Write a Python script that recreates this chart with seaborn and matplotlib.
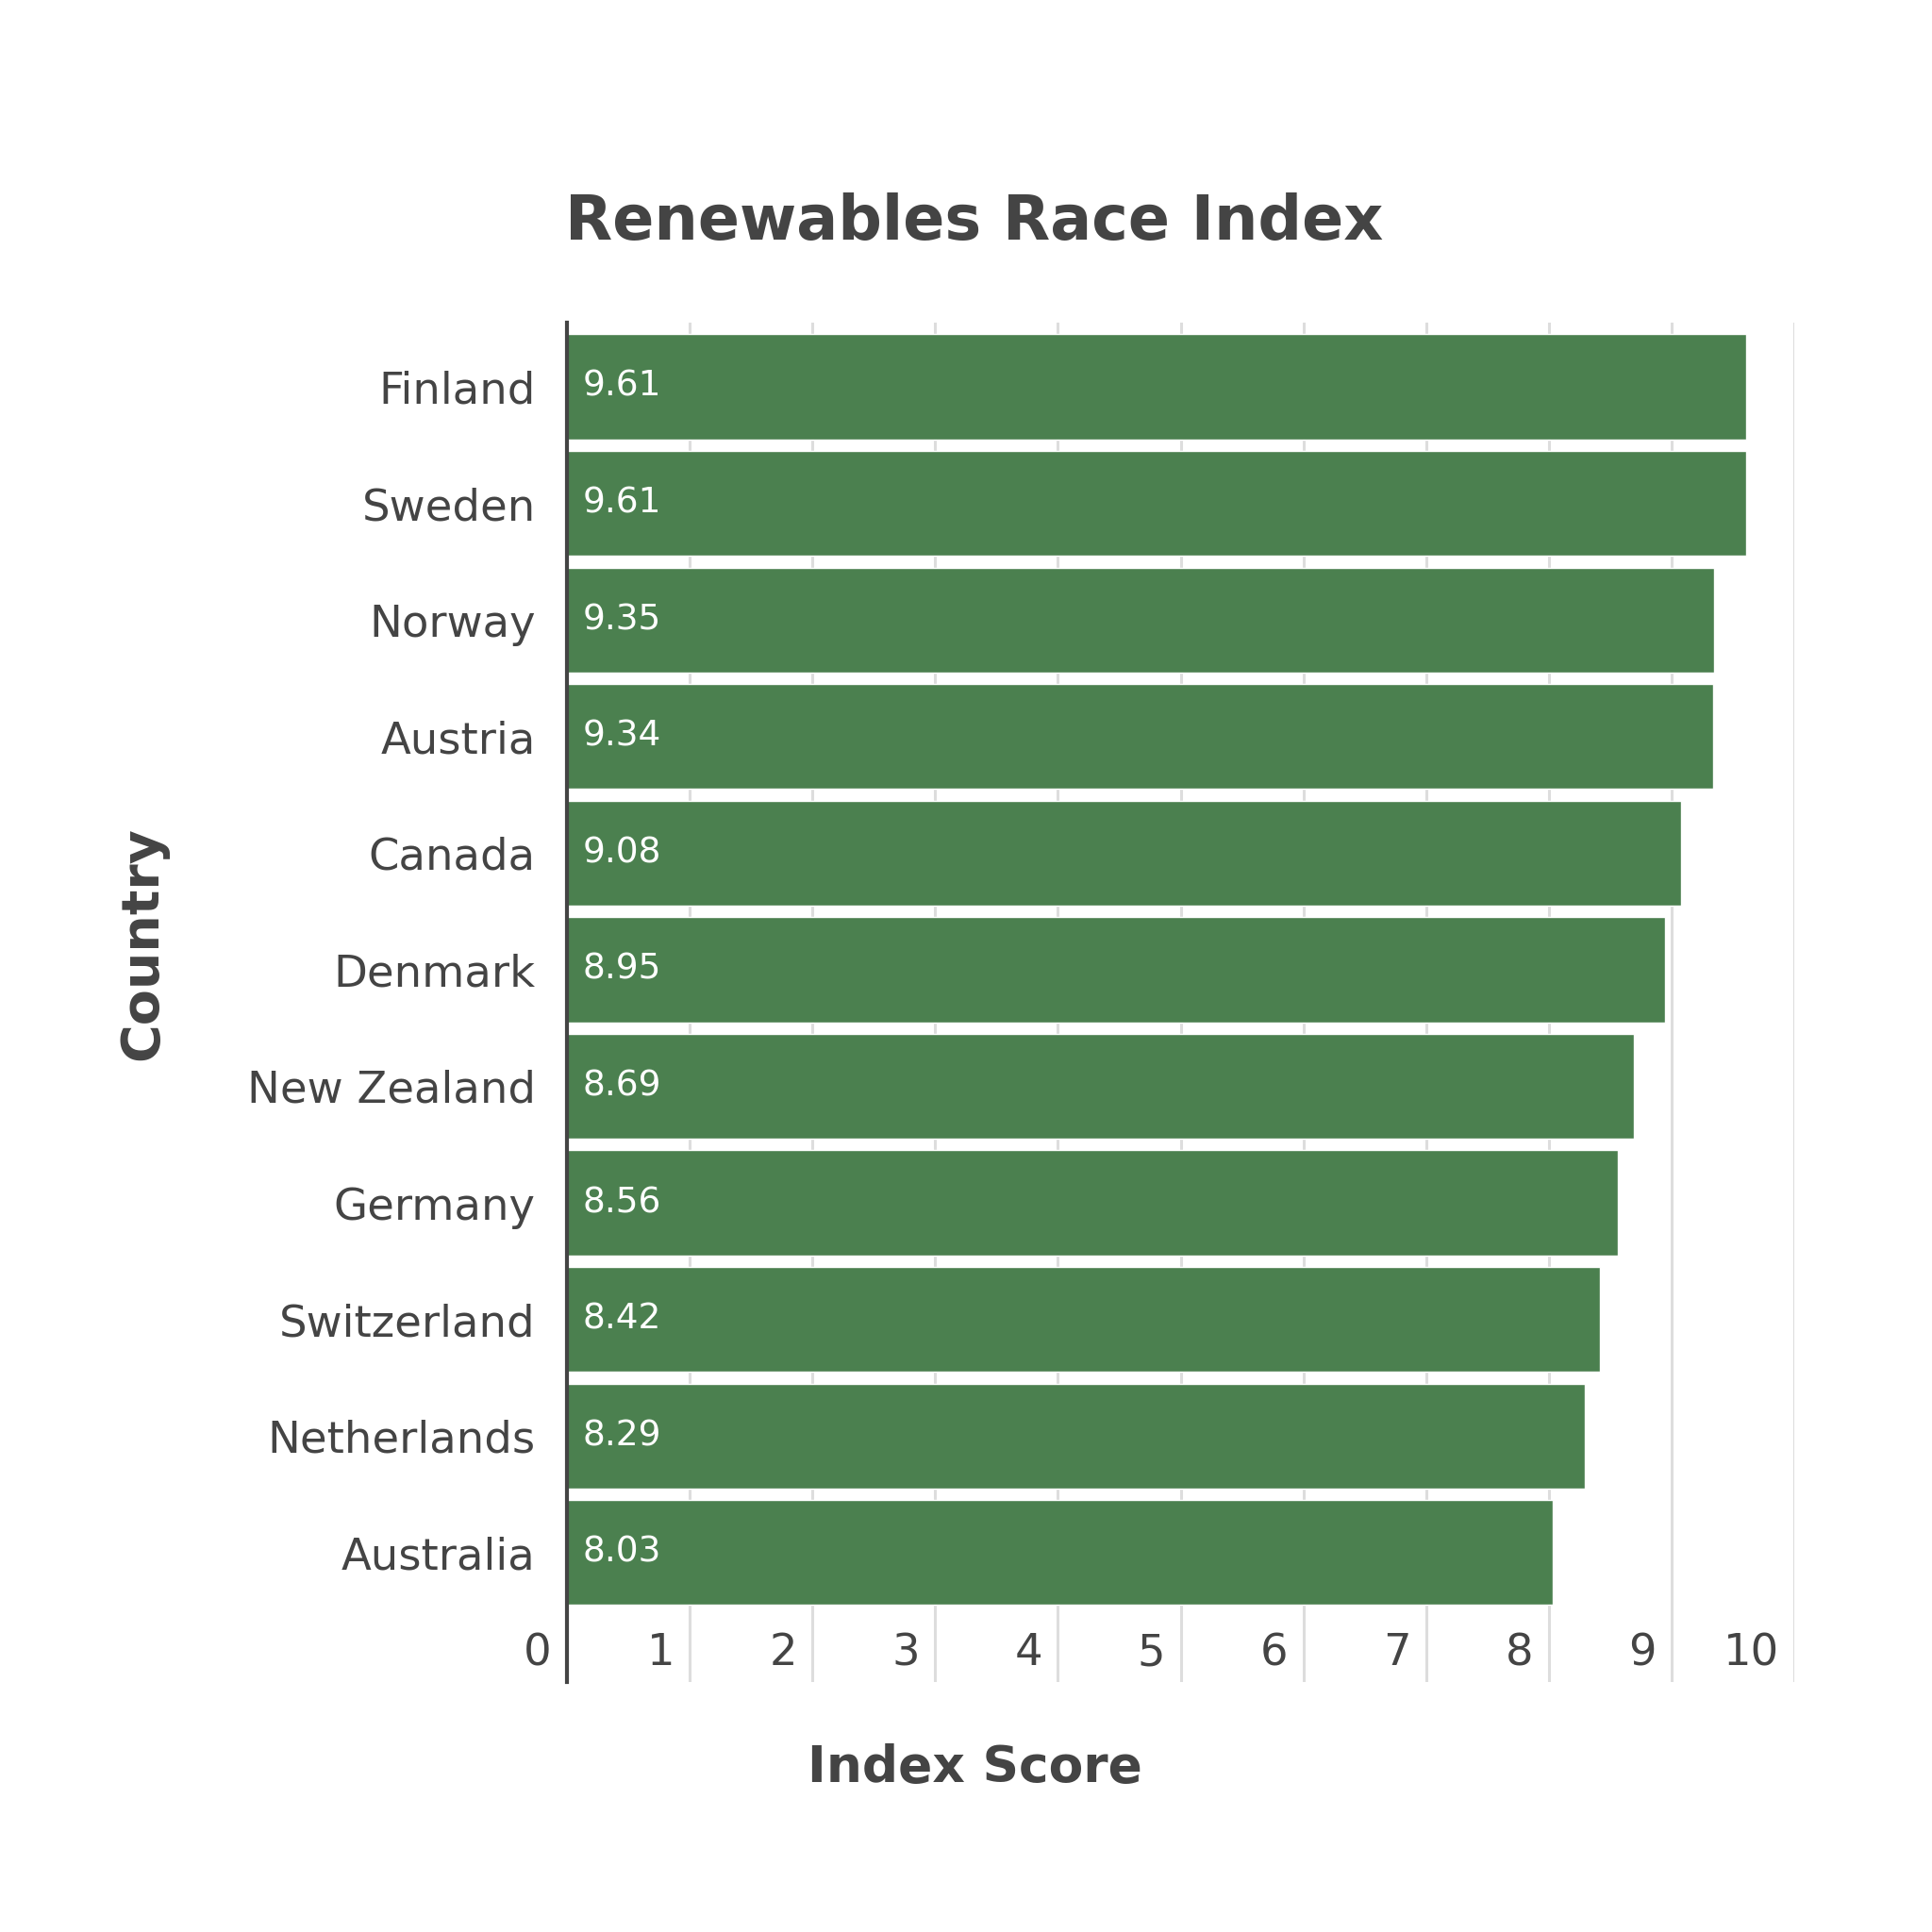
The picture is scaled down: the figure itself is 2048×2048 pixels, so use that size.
import matplotlib
matplotlib.use('Agg')
import matplotlib.pyplot as plt
import matplotlib.transforms as mtransforms
import seaborn as sns

# data
countries = ['Finland', 'Sweden', 'Norway', 'Austria', 'Canada', 'Denmark',
             'New Zealand', 'Germany', 'Switzerland', 'Netherlands', 'Australia']
scores = [9.61, 9.61, 9.35, 9.34, 9.08, 8.95, 8.69, 8.56, 8.42, 8.29, 8.03]
xticks = [0, 1, 2, 3, 4, 5, 6, 7, 8, 9, 10]
xtick_labels = [str(t) for t in xticks]

green = '#4b804f'
text_col = '#444444'

sns.set_style('white')
plt.rcParams['font.family'] = ['DejaVu Sans']

fig = plt.figure(figsize=(20.48, 20.48), dpi=100)
ax = fig.add_axes([0.2935, 0.1294, 0.6352, 0.7036])

sns.barplot(x=scores, y=countries, orient='h', color=green, saturation=1,
            width=0.9, ax=ax, zorder=2)

ax.set_xlim(0, 10)
ax.set_ylim(11.11, -0.55)

# vertical grid lines, full height of the axes
ax.set_xticks(xticks)
ax.set_xticklabels([])
ax.tick_params(axis='x', length=0)
ax.grid(axis='x', color='#dddddd', linewidth=2.2)
ax.grid(axis='y', visible=False)
ax.set_axisbelow(True)

for side in ['top', 'right', 'bottom']:
    ax.spines[side].set_visible(False)
ax.spines['left'].set_color(text_col)
ax.spines['left'].set_linewidth(3)
ax.spines['left'].set_zorder(3)

# y tick labels (countries)
ax.tick_params(axis='y', length=0, pad=24, labelsize=33.5, labelcolor=text_col)

# x tick labels sit inside the axes, just left of each grid line
trans = mtransforms.offset_copy(ax.get_xaxis_transform(), fig=fig,
                                x=-0.16, y=0, units='inches')
for t, lab in zip(xticks, xtick_labels):
    ax.text(t, 0.021, lab, transform=trans, ha='right', va='center',
            fontsize=33.5, color=text_col)

# value labels at the base of each bar
for patch, v in zip(ax.patches, scores):
    ax.annotate(f'{v:.2f}', xy=(0, patch.get_y() + patch.get_height() / 2),
                xytext=(12, 0), textcoords='offset points',
                ha='left', va='center', fontsize=27, color='white', zorder=4)

ax.set_title('Renewables Race Index', fontsize=47, fontweight='bold',
             color=text_col, x=0.332, y=1.055, va='baseline')
ax.set_xlabel('Index Score', fontsize=38.5, fontweight='bold', color=text_col)
ax.xaxis.set_label_coords(0.332, -0.045)
ax.set_ylabel('Country', fontsize=40, fontweight='bold', color=text_col)
ax.yaxis.set_label_coords(-0.325, 0.543)

plt.savefig('out.png', dpi=100, facecolor='white')
